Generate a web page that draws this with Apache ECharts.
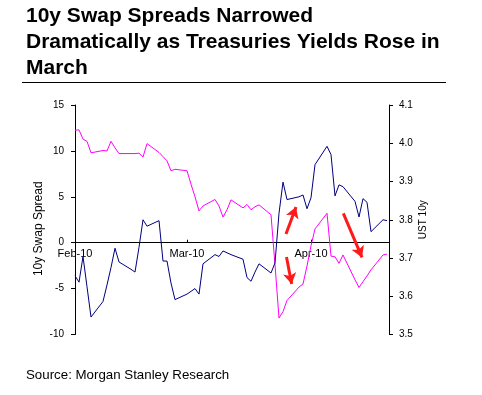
<!DOCTYPE html>
<html>
<head>
<meta charset="utf-8">
<script src="https://cdn.jsdelivr.net/npm/echarts@6/dist/echarts.min.js"></script>
<style>
html,body{margin:0;padding:0;background:#fff;}
#chart{width:482px;height:395px;}
</style>
</head>
<body>
<div id="chart"></div>
<script>
// ---- data ----
var dates = [
  '2010-02-01','2010-02-02','2010-02-03','2010-02-04','2010-02-05',
  '2010-02-08','2010-02-09','2010-02-10','2010-02-11','2010-02-12',
  '2010-02-15','2010-02-16','2010-02-17','2010-02-18','2010-02-19',
  '2010-02-22','2010-02-23','2010-02-24','2010-02-25','2010-02-26',
  '2010-03-01','2010-03-02','2010-03-03','2010-03-04','2010-03-05',
  '2010-03-08','2010-03-09','2010-03-10','2010-03-11','2010-03-12',
  '2010-03-15','2010-03-16','2010-03-17','2010-03-18','2010-03-19',
  '2010-03-22','2010-03-23','2010-03-24','2010-03-25','2010-03-26',
  '2010-03-29','2010-03-30','2010-03-31',
  '2010-04-01','2010-04-02',
  '2010-04-05','2010-04-06','2010-04-07','2010-04-08','2010-04-09',
  '2010-04-12','2010-04-13','2010-04-14','2010-04-15','2010-04-16',
  '2010-04-19','2010-04-20'
];
var swapSpread = [
  -3.6, -4.3, -1.5, -4.8, -8.1,
  -6.4, -4.6, -2.7, -0.6, -2.1,
  -2.9, -3.2, -0.5, 2.5, 1.8,
  2.4, -2.0, -2.0, -4.4, -6.2,
  -5.6, -5.3, -5.0, -5.6, -2.3,
  -1.3, -1.5, -0.9, -1.1, -1.3,
  -1.8, -3.8, -4.2, -3.2, -2.3,
  -3.3, -2.2, 3.2, 6.6, 4.7,
  5.0, 5.2, 3.7,
  4.9, 8.5,
  10.5, 9.6, 5.1, 6.3, 6.1,
  4.5, 2.8, 4.8, 4.4, 1.2,
  2.5, 2.4
];
var ust10y = [
  4.034, 4.035, 4.011, 4.005, 3.975,
  3.981, 3.980, 4.005, 3.988, 3.973,
  3.973, 3.973, 3.974, 3.964, 3.999,
  3.976, 3.965, 3.954, 3.928, 3.932,
  3.928, 3.893, 3.860, 3.823, 3.836,
  3.853, 3.836, 3.807, 3.826, 3.852,
  3.831, 3.840, 3.826, 3.834, 3.839,
  3.813, 3.682, 3.543, 3.560, 3.589,
  3.624, 3.632, 3.679,
  3.732, 3.776,
  3.817, 3.705, 3.703, 3.686, 3.708,
  3.643, 3.623, 3.638, 3.653, 3.669,
  3.708, 3.710
];
var monthTicks = ['2010-02-01', '2010-03-01', '2010-04-01'];
var monthNames = ['Jan','Feb','Mar','Apr','May','Jun','Jul','Aug','Sep','Oct','Nov','Dec'];
var xRange = ['2010-01-31 12:00', '2010-04-20 12:00'];
var leftTicks = {min: -10, max: 15, interval: 5};
var rightTicks = {min: 3.5, max: 4.1, interval: 0.1};
// annotation arrows: [start date-time, start value, end date-time, end value] on the left axis
var arrows = [
  ['2010-03-25 18:00', 0.95, '2010-03-28 06:00', 3.9],
  ['2010-03-25 21:00', -1.56, '2010-03-27 04:00', -4.5],
  ['2010-04-09 02:00', 3.2, '2010-04-13 18:00', -1.6]
];
var titleText = '10y Swap Spreads Narrowed\nDramatically as Treasuries Yields Rose in\nMarch';
var sourceText = 'Source: Morgan Stanley Research';

// ---- helpers ----
var DAY = 86400000;
function toUTC(s) {
  var p = s.split(' ');
  var d = p[0].split('-');
  var h = 0, m = 0;
  if (p[1]) { var t = p[1].split(':'); h = +t[0]; m = +t[1]; }
  return Date.UTC(+d[0], +d[1] - 1, +d[2], h, m);
}
var ORIGIN = toUTC('2010-02-01');
function toDay(s) { return (toUTC(s) - ORIGIN) / DAY; }
function dayLabel(v) {
  var d = new Date(ORIGIN + v * DAY);
  return monthNames[d.getUTCMonth()] + '-' + String(d.getUTCFullYear()).slice(2);
}
var FONT = 'Liberation Sans, Arial, sans-serif';

var GRID = {left: 73, right: 93, top: 105, bottom: 60.5};
var plotH = 395 - GRID.top - GRID.bottom;
// place the date axis on the left-axis zero line
var zeroOffset = -plotH * (0 - leftTicks.min) / (leftTicks.max - leftTicks.min);

var navyData = dates.map(function (d, i) { return [toDay(d), swapSpread[i]]; });
var magentaData = dates.map(function (d, i) { return [toDay(d), ust10y[i]]; });
var tickValues = monthTicks.map(toDay);
var arrowLines = arrows.map(function (a) {
  return [{coord: [toDay(a[0]), a[1]]}, {coord: [toDay(a[2]), a[3]]}];
});

var chart = echarts.init(document.getElementById('chart'), null, {renderer: 'canvas'});
chart.setOption({
  animation: false,
  backgroundColor: '#ffffff',
  textStyle: {fontFamily: FONT},
  title: {
    text: titleText,
    left: 26, top: 3, padding: 0,
    textStyle: {fontFamily: FONT, fontSize: 21, fontWeight: 'bold', color: '#000', lineHeight: 26}
  },
  graphic: [
    {type: 'line', shape: {x1: 22, y1: 82.5, x2: 446, y2: 82.5}, style: {stroke: '#000', lineWidth: 1}},
    {type: 'text', left: 26, top: 369, style: {text: sourceText, font: '13.3px ' + FONT, fill: '#000'}}
  ],
  grid: {left: GRID.left, right: GRID.right, top: GRID.top, bottom: GRID.bottom, containLabel: false},
  xAxis: {
    type: 'value',
    position: 'bottom',
    offset: zeroOffset,
    min: toDay(xRange[0]),
    max: toDay(xRange[1]),
    axisLine: {show: true, onZero: false, lineStyle: {color: '#000', width: 1}},
    axisTick: {show: true, inside: true, length: 3, customValues: tickValues, lineStyle: {color: '#000'}},
    axisLabel: {
      customValues: tickValues,
      margin: 6,
      fontSize: 11, color: '#000', fontFamily: FONT,
      formatter: dayLabel
    },
    splitLine: {show: false}
  },
  yAxis: [
    {
      type: 'value', position: 'left',
      min: leftTicks.min, max: leftTicks.max, interval: leftTicks.interval,
      name: '10y Swap Spread', nameLocation: 'middle', nameRotate: 90, nameGap: 28,
      nameMoveOverlap: false,
      nameTextStyle: {fontSize: 12, color: '#000', fontFamily: FONT, padding: [0, 18, 0, 0]},
      axisLine: {show: true, lineStyle: {color: '#000', width: 1}},
      axisTick: {show: true, length: 4, lineStyle: {color: '#000'}},
      axisLabel: {fontSize: 10, color: '#000', margin: 9, fontFamily: FONT},
      splitLine: {show: false}
    },
    {
      type: 'value', position: 'right',
      min: rightTicks.min, max: rightTicks.max, interval: rightTicks.interval,
      name: 'UST 10y', nameLocation: 'middle', nameRotate: 90, nameGap: 29,
      nameMoveOverlap: false,
      nameTextStyle: {fontSize: 10, color: '#000', fontFamily: FONT},
      axisLine: {show: true, lineStyle: {color: '#000', width: 1}},
      axisTick: {show: true, length: 4, lineStyle: {color: '#000'}},
      axisLabel: {fontSize: 10, color: '#000', margin: 10, fontFamily: FONT,
        formatter: function (v) { return v.toFixed(1); }},
      splitLine: {show: false}
    }
  ],
  series: [
    {
      name: 'UST 10y', type: 'line', yAxisIndex: 1, data: magentaData,
      showSymbol: false, symbol: 'none',
      lineStyle: {color: '#ff00ff', width: 1}
    },
    {
      name: '10y Swap Spread', type: 'line', yAxisIndex: 0, data: navyData,
      showSymbol: false, symbol: 'none',
      lineStyle: {color: '#000080', width: 1},
      markLine: {
        silent: true, animation: false,
        symbol: ['none', 'arrow'], symbolSize: [10, 11],
        label: {show: false},
        lineStyle: {color: '#ff1a1a', width: 3, type: 'solid'},
        data: arrowLines
      }
    }
  ]
});
</script>
</body>
</html>
